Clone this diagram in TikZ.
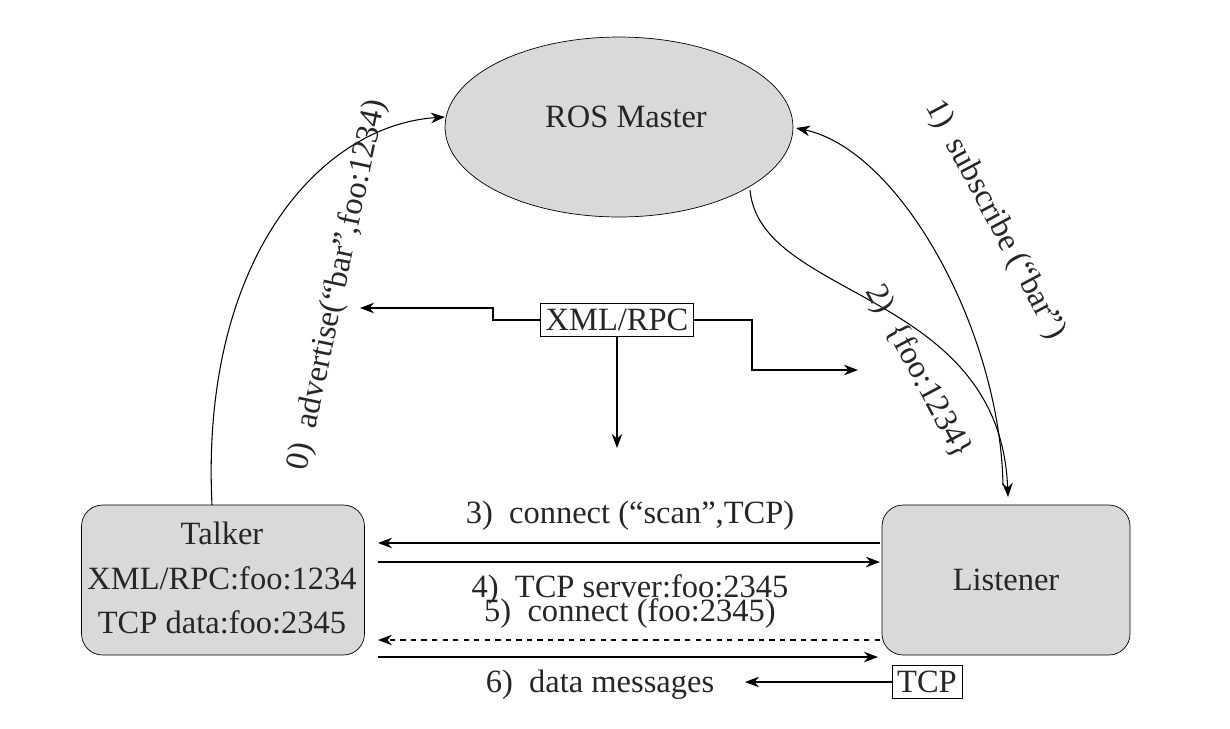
\documentclass[tikz,border=0pt]{standalone}
\usepackage{fontspec}
\setmainfont{Liberation Serif}
\usetikzlibrary{arrows.meta,shapes.geometric}
\begin{document}
\begin{tikzpicture}[x=0.02cm,y=-0.02cm,
  every node/.style={font=\fontsize{18.5}{22}\selectfont,text=black!85},
  box/.style={draw,fill=gray!30,rounded corners=12pt,minimum width=5.66cm,minimum height=3cm},
  tag/.style={draw,fill=white,inner sep=3pt},
  arr/.style={-{Stealth[length=8pt,width=6pt]},line width=0.6pt},
  lab/.style={inner sep=1pt}]
\useasboundingbox (0,0) rectangle (1230,728);
\node[ellipse,draw,fill=gray!30,minimum width=6.96cm,minimum height=3.6cm,font=\fontsize{19.5}{22}\selectfont] (m) at (619,127) {};
\node at (626,117) {ROS Master};
\node[box] (t) at (223,580) {};
\node at (222,533) {Talker};
\node at (222,578) {XML/RPC:foo:1234};
\node at (222,622) {TCP data:foo:2345};
\node[box,minimum width=4.96cm] (l) at (1006,580) {Listener};
\node[tag] (x) at (617,320) {XML/RPC};
\node[tag] (tcp) at (927,682) {TCP};
\coordinate (t0) at (212,505);
\coordinate (m0) at (445,117);
\coordinate (m1) at (796,128);
\coordinate (m2) at (750,190);
\coordinate (l1) at (1003,485);
\coordinate (l2) at (1008,497);
\draw[arr] (t0) .. controls (200,260) and (320,125) .. (m0);
\draw[arr] (l1) .. controls (1000,330) and (900,150) .. (m1);
\draw[arr] (m2) .. controls (760,300) and (1000,290) .. (l2);
\node[lab,rotate=78] at (338,285) {0)\ \ advertise(“bar”,foo:1234)};
\node[lab,rotate=-62] at (995,220) {1)\ \ subscribe (“bar”)};
\node[lab,rotate=-62] at (918,372) {2)\ \ \{foo:1234\}};
\coordinate (xl) at (360,308);
\coordinate (xr) at (858,370);
\coordinate (xd) at (617,448);
\draw[arr] (x.west) -- (493,320) -- (493,308) -- (xl);
\draw[arr] (x.east) -- (752,320) -- (752,370) -- (xr);
\draw[arr] (x.south) -- (xd);
\coordinate (a3) at (880,543); \coordinate (b3) at (378,543);
\coordinate (a4) at (378,562); \coordinate (b4) at (880,562);
\coordinate (a5) at (880,640); \coordinate (b5) at (378,640);
\coordinate (a6) at (378,657); \coordinate (b6) at (878,657);
\coordinate (b7) at (745,682);
\draw[arr] (a3) -- (b3);
\draw[arr] (a4) -- (b4);
\draw[arr,dashed] (a5) -- (b5);
\draw[arr] (a6) -- (b6);
\draw[arr] (tcp.west) -- (b7);
\node at (630,516) {3)\ \ connect (“scan”,TCP)};
\node at (630,590) {4)\ \ TCP server:foo:2345};
\node at (630,614) {5)\ \ connect (foo:2345)};
\node at (600,685) {6)\ \ data messages};
\end{tikzpicture}
\end{document}
